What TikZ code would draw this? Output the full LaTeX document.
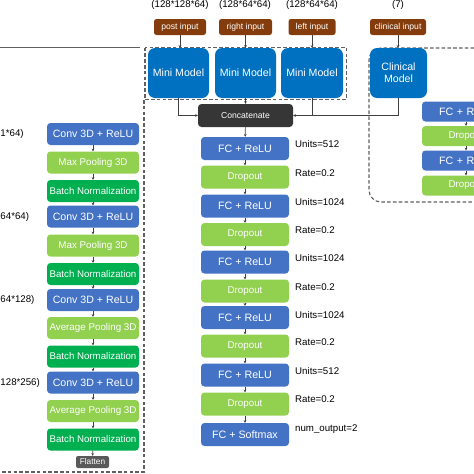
\documentclass[tikz,border=0pt]{standalone}
\usepackage{fontspec}
\setmainfont{Liberation Sans}
\usetikzlibrary{arrows.meta}
\definecolor{fcblue}{HTML}{4472C4}
\definecolor{mmblue}{HTML}{0070C0}
\definecolor{lgreen}{HTML}{92D050}
\definecolor{dgreen}{HTML}{00B050}
\definecolor{inbrown}{HTML}{843C0C}
\definecolor{catgray}{HTML}{363636}
\definecolor{flgray}{HTML}{595959}
\definecolor{linegray}{HTML}{404040}
\definecolor{dashgray}{HTML}{606060}
\begin{document}
\begin{tikzpicture}[x=1pt,y=-1pt,
  box/.style={rounded corners=3.5pt, inner sep=0pt, text=white, align=center},
  lbox/.style={box, minimum width=92pt, minimum height=22pt},
  conv/.style={lbox, fill=fcblue, font=\fontsize{10.6}{12}\selectfont},
  pool/.style={lbox, fill=lgreen, font=\fontsize{9.8}{12}\selectfont},
  bnorm/.style={lbox, fill=dgreen, font=\fontsize{9.7}{12}\selectfont},
  mbox/.style={box, minimum width=88pt, minimum height=23pt},
  fc/.style={mbox, fill=fcblue, font=\fontsize{10.7}{12}\selectfont},
  drop/.style={mbox, fill=lgreen, font=\fontsize{9.8}{12}\selectfont},
  rbox/.style={minimum height=20pt, align=left},
  model/.style={box, rounded corners=7pt, fill=mmblue, minimum height=50pt, font=\fontsize{10.6}{12}\selectfont},
  inp/.style={box, rounded corners=2.5pt, fill=inbrown, minimum height=16pt, font=\fontsize{8.6}{10}\selectfont},
  note/.style={inner sep=0pt, text=black, font=\fontsize{9.7}{11}\selectfont},
  conn/.style={draw=linegray, line width=0.6pt, -{Stealth[length=2.6pt,width=2.6pt]}},
  plainline/.style={draw=linegray, line width=0.6pt},
  dashline/.style={draw=dashgray, line width=1.1pt, dash pattern=on 3.6pt off 2.2pt},
]
\useasboundingbox (0,0) rectangle (474,474);
\clip (0,0) rectangle (474,474);

% ---- region outlines
\draw[line width=0.8pt, draw=dashgray] (0,47) -- (140,47);
\draw[dashline] (145,47.5) rectangle (346.5,99.5);
\draw[dashline] (144,100) -- (144,472) -- (0,472);
\draw[dashline, rounded corners=12pt] (480,48) -- (369,48) -- (369,202) -- (480,202);

% ---- top labels
\node[note] (t1) at (180,5) {(128*128*64)};
\node[note] (t2) at (245,5) {(128*64*64)};
\node[note] (t3) at (312,5) {(128*64*64)};
\node[note] (t4) at (398,5) {(7)};

% ---- inputs
\node[inp, minimum width=52pt] (ip1) at (180,27) {post input};
\node[inp, minimum width=53pt] (ip2) at (245.5,27) {right input};
\node[inp, minimum width=47pt] (ip3) at (312,27) {left input};
\node[inp, minimum width=56pt] (ip4) at (398,27) {clinical input};

% ---- models
\node[model, minimum width=61pt] (mm1) at (178.5,73) {Mini Model};
\node[model, minimum width=61pt] (mm2) at (245.5,73) {Mini Model};
\node[model, minimum width=62pt] (mm3) at (312,73) {Mini Model};
\node[model, minimum width=57pt] (cm) at (398.5,73) {Clinical\\Model};

% ---- concatenate
\node[box, fill=catgray, minimum width=95pt, minimum height=23pt, font=\fontsize{8.6}{10}\selectfont] (cat) at (245.5,115.5) {Concatenate};

% ---- left column
\node[conv]  (c1) at (93,134)   {Conv 3D + ReLU};
\node[pool]  (p1) at (93,162.5) {Max Pooling 3D};
\node[bnorm] (b1) at (93,191)   {Batch Normalization};
\node[conv]  (c2) at (93,216.5) {Conv 3D + ReLU};
\node[pool]  (p2) at (93,245.5) {Max Pooling 3D};
\node[bnorm] (b2) at (93,274)   {Batch Normalization};
\node[conv]  (c3) at (93,300)   {Conv 3D + ReLU};
\node[pool]  (p3) at (93,328)   {Average Pooling 3D};
\node[bnorm] (b3) at (93,356.5) {Batch Normalization};
\node[conv]  (c4) at (93,382.5) {Conv 3D + ReLU};
\node[pool]  (p4) at (93,411)   {Average Pooling 3D};
\node[bnorm] (b4) at (93,439.5) {Batch Normalization};
\node[box, fill=flgray, rounded corners=2pt, minimum width=33pt, minimum height=12pt, font=\fontsize{8.3}{10}\selectfont] (fl) at (92.5,462) {Flatten};

% shape labels at the left edge (cropped in the original)
\node[note, anchor=west] (s1) at (0.3,134)   {1*64)};
\node[note, anchor=west] (s2) at (0.3,216.5) {64*64)};
\node[note, anchor=west] (s3) at (0.3,300)   {64*128)};
\node[note, anchor=west] (s4) at (0.3,382.5) {128*256)};

% ---- main column
\node[fc]   (f1) at (245,148.5) {FC + ReLU};
\node[drop] (d1) at (245,177)   {Dropout};
\node[fc]   (f2) at (245,206)   {FC + ReLU};
\node[drop] (d2) at (245,234.5) {Dropout};
\node[fc]   (f3) at (245,262)   {FC + ReLU};
\node[drop] (d3) at (245,291)   {Dropout};
\node[fc]   (f4) at (245,317.5) {FC + ReLU};
\node[drop] (d4) at (245,346)   {Dropout};
\node[fc]   (f5) at (245,375)   {FC + ReLU};
\node[drop] (d5) at (245,404)   {Dropout};
\node[fc]   (fs) at (245,434.5) {FC + Softmax};

\node[note, anchor=west] (l1)  at (295,144) {Units=512};
\node[note, anchor=west] (l2)  at (295,173) {Rate=0.2};
\node[note, anchor=west] (l3)  at (295,202) {Units=1024};
\node[note, anchor=west] (l4)  at (295,230) {Rate=0.2};
\node[note, anchor=west] (l5)  at (295,258.5) {Units=1024};
\node[note, anchor=west] (l6)  at (295,287) {Rate=0.2};
\node[note, anchor=west] (l7)  at (295,315) {Units=1024};
\node[note, anchor=west] (l8)  at (295,342) {Rate=0.2};
\node[note, anchor=west] (l9)  at (295,371) {Units=512};
\node[note, anchor=west] (l10) at (295,399) {Rate=0.2};
\node[note, anchor=west] (l11) at (295,429) {num\_output=2};

% ---- clinical column (cropped at the right edge)
\node[fc, rbox, text width=54pt]   (r1) at (466,111.5) {FC + R};
\node[drop, rbox, text width=35pt] (r2) at (466,136)   {Dropo};
\node[fc, rbox, text width=54pt]   (r3) at (466,160.5) {FC + R};
\node[drop, rbox, text width=35pt] (r4) at (466,185.5) {Dropo};

% ---- connectors
\draw[conn] (ip1) -- (mm1.north -| ip1);
\draw[conn] (ip2) -- (mm2.north -| ip2);
\draw[conn] (ip3) -- (mm3.north -| ip3);
\draw[conn] (ip4) -- (cm.north -| ip4);

\draw[conn] (mm1.south) |- (cat.west);
\draw[conn] (mm2.south) -- (cat.north);
\draw[conn] (mm3.south) |- (cat.east);
\draw[plainline] (cm.south) |- (mm3.south |- cat.east);

\draw[conn] (cat) -- (f1);
\foreach \a/\b in {f1/d1,d1/f2,f2/d2,d2/f3,f3/d3,d3/f4,f4/d4,d4/f5,f5/d5,d5/fs,
                   c1/p1,p1/b1,b1/c2,c2/p2,p2/b2,b2/c3,c3/p3,p3/b3,b3/c4,c4/p4,p4/b4,b4/fl,
                   r1/r2,r2/r3,r3/r4}
  \draw[conn] (\a) -- (\b);
\end{tikzpicture}
\end{document}
